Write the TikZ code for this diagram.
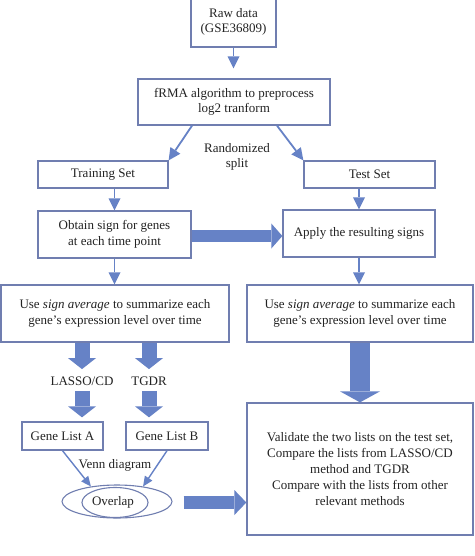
\documentclass[tikz,border=0pt]{standalone}
\usepackage{fontspec}
\setmainfont{Liberation Serif}
\usetikzlibrary{arrows.meta,calc,shapes.geometric}
\definecolor{boxc}{RGB}{112,126,176}
\definecolor{arrc}{RGB}{102,130,198}
\definecolor{txtc}{RGB}{35,35,35}
\begin{document}
\begin{tikzpicture}[x=1pt,y=-1pt,
  txt/.style={text=txtc,align=center,font=\fontsize{13}{15.5}\selectfont},
  box/.style={txt,draw=boxc,line width=1.3pt,fill=white,inner sep=0pt},
  thinarr/.style={draw=arrc,line width=1.8pt,-{Triangle[width=12pt,length=12pt,line width=0pt]}},
  vennarr/.style={draw=arrc,line width=1.4pt,-{Triangle[width=9pt,length=10pt,line width=0pt]}},
  fat/.style n args={3}{draw=arrc,line width=#1,-{Triangle[width=#2,length=#3,line width=0pt]}}]
\useasboundingbox (0,0) rectangle (474,556);
\fill[white] (0,0) rectangle (474,556);
\node[box,minimum width=85pt,minimum height=50pt] (raw) at (233.5,22) {Raw data\\(GSE36809)};
\node[box,minimum width=192pt,minimum height=46pt] (frma) at (234,102) {fRMA algorithm to preprocess\\log2 tranform};
\node[txt] (split) at (237,157) {Randomized\\split};
\node[box,minimum width=130pt,minimum height=27pt] (train) at (103,174.5) {Training Set};
\node[box,minimum width=131pt,minimum height=27pt] (test) at (369.5,174.5) {Test Set};
\node[box,minimum width=153pt,minimum height=47pt] (obtain) at (114.5,234.5) {Obtain sign for genes\\at each time point};
\node[box,minimum width=152pt,minimum height=47pt] (apply) at (359,233.5) {Apply the resulting signs};
\node[box,minimum width=228pt,minimum height=57pt] (avgL) at (115,313.5) {Use \textit{sign average} to summarize each\\gene’s expression level over time};
\node[box,minimum width=226pt,minimum height=57pt] (avgR) at (360,313.5) {Use \textit{sign average} to summarize each\\gene’s expression level over time};
\node[txt] (lasso) at (82,381) {LASSO/CD};
\node[txt] (tgdr) at (149,381) {TGDR};
\node[box,minimum width=81pt,minimum height=28pt] (gla) at (62.5,436) {Gene List A};
\node[box,minimum width=82pt,minimum height=28pt] (glb) at (167,436) {Gene List B};
\node[txt] (venn) at (115,465) {Venn diagram};
\node[draw=boxc,line width=1.1pt,ellipse,minimum width=110pt,minimum height=33pt,inner sep=0pt] (outer) at (117,501.5) {};
\node[draw=boxc,line width=1.1pt,ellipse,minimum width=66pt,minimum height=30pt,inner sep=0pt] (inner) at (115,502.5) {};
\node[txt] (overlap) at (113,502) {Overlap};
\node[box,minimum width=226pt,minimum height=132pt,font=\fontsize{13}{16}\selectfont] (valid) at (360,469) {Validate the two lists on the test set,\\Compare the lists from LASSO/CD\\method and TGDR\\Compare with the lists from other\\relevant methods};
% connectors
\draw[thinarr,shorten >=10pt] (raw.south) -- (raw.south |- frma.north);
\draw[thinarr] ([xshift=-42pt]frma.south) -- (train.north east);
\draw[thinarr] ([xshift=43pt]frma.south) -- (test.north west);
\draw[thinarr] (obtain.north |- train.south) -- (obtain.north);
\draw[thinarr] (apply.north |- test.south) -- (apply.north);
\draw[fat={12pt}{25pt}{11pt}] ([yshift=-1.5pt]obtain.east) -- ([yshift=-1.5pt]obtain.east -| apply.west);
\draw[thinarr] (obtain.south) -- (obtain.south |- avgL.north);
\draw[thinarr] (apply.south) -- (apply.south |- avgR.north);
\draw[fat={15pt}{28pt}{11pt},shorten >=4pt] (avgL.south -| lasso) -- (lasso.north);
\draw[fat={15pt}{28pt}{11pt},shorten >=4pt] (avgL.south -| tgdr) -- (tgdr.north);
\draw[fat={15pt}{28pt}{11pt},shorten >=4pt] ([yshift=-2pt]lasso.south) -- (lasso.south |- gla.north);
\draw[fat={15pt}{28pt}{11pt},shorten >=4pt] ([yshift=-2pt]tgdr.south |- lasso.south) -- (tgdr.south |- glb.north);
\draw[vennarr] (gla.south) -- (outer.150);
\draw[vennarr] (glb.south) -- (outer.30);
\draw[fat={13pt}{25pt}{12pt}] ([xshift=11pt,yshift=-1pt]outer.east) -- ([yshift=-1pt]valid.west |- outer.east);
\draw[fat={20pt}{40pt}{11pt}] (avgR.south) -- (valid.north);
\end{tikzpicture}
\end{document}
